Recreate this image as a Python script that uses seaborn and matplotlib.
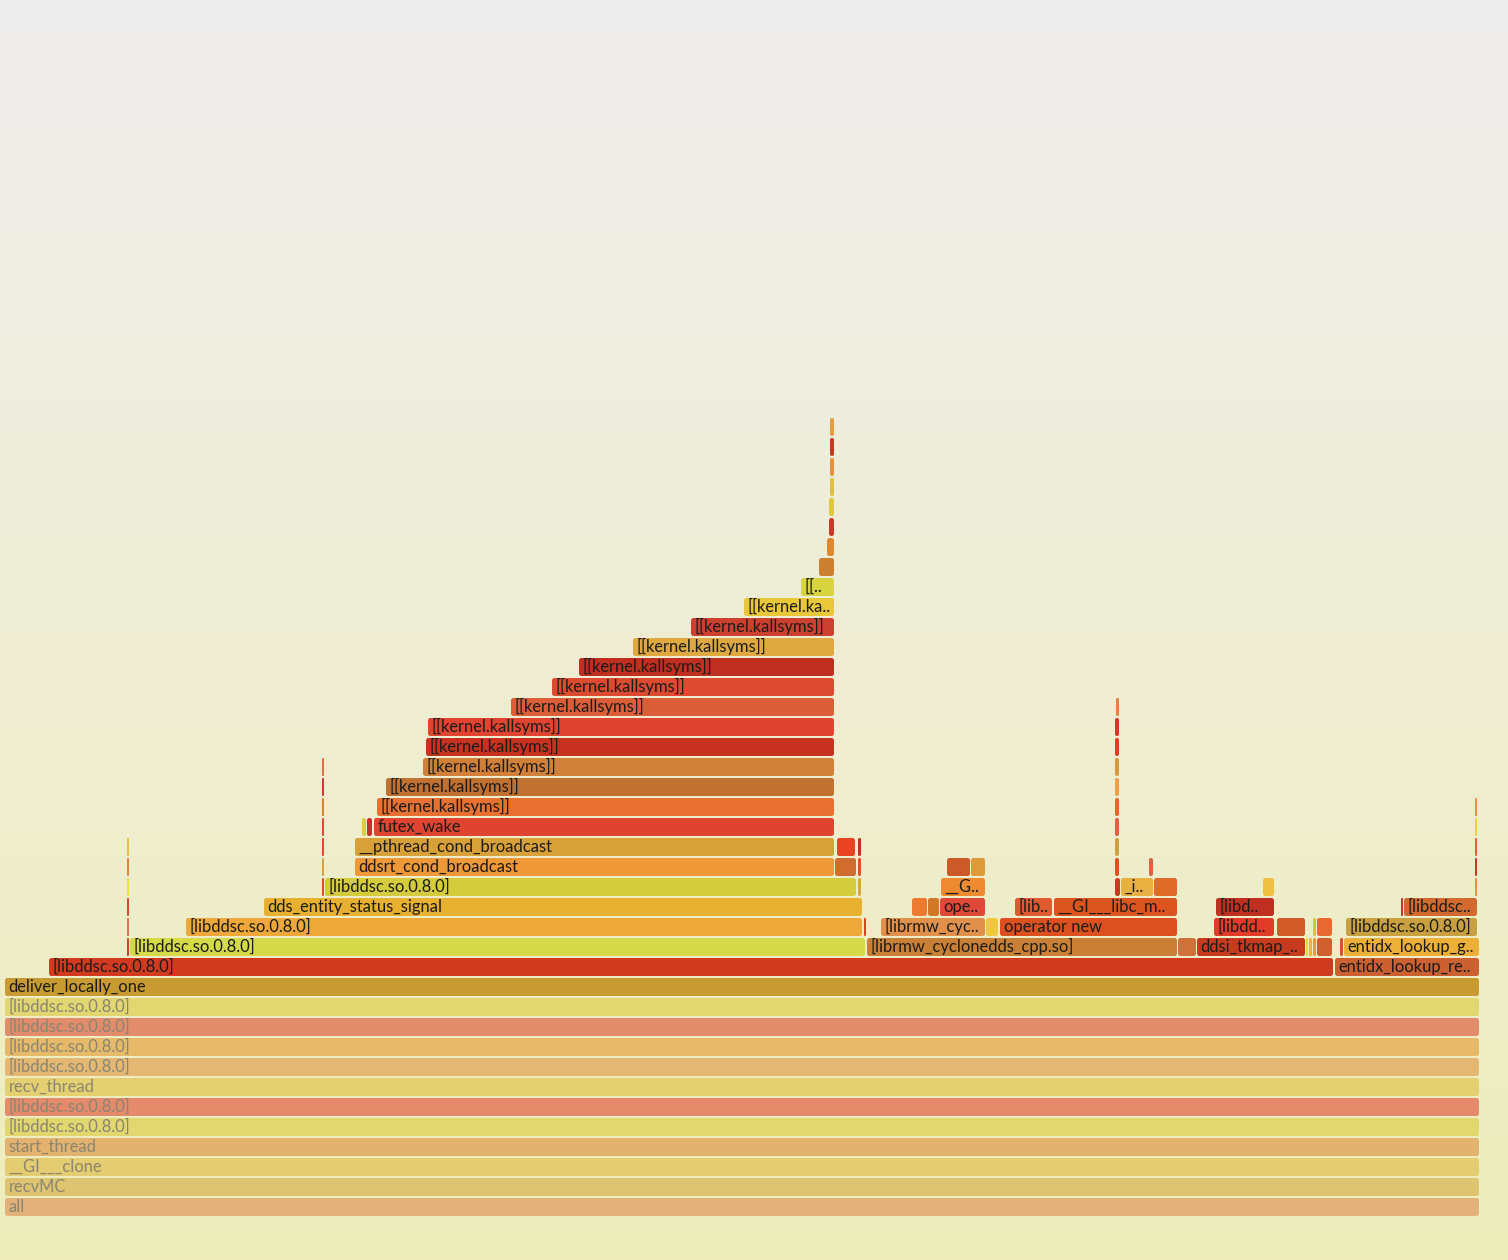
import numpy as np
import pandas as pd
import matplotlib
matplotlib.use("Agg")
import matplotlib.pyplot as plt
from matplotlib.patches import FancyBboxPatch
from matplotlib.colors import LinearSegmentedColormap
import seaborn as sns

# Flame graph frames (samples, total = 1475). Levels 0-10 are faded ancestors
# of the zoomed frame "deliver_locally_one".
TOTAL = 1475
ZOOM_LEVEL = 11

ancestor_names = ["all", "recvMC", "__GI___clone", "start_thread",
                  "[libddsc.so.0.8.0]", "[libddsc.so.0.8.0]", "recv_thread",
                  "[libddsc.so.0.8.0]", "[libddsc.so.0.8.0]", "[libddsc.so.0.8.0]",
                  "[libddsc.so.0.8.0]", "deliver_locally_one"]
ancestor_colors = ["#e2b27a", "#dec470", "#e4cc70", "#e2b26e", "#e2d66e", "#e58a6a",
                   "#e4d070", "#e4b872", "#e6ba68", "#e38c6c", "#e2d670", "#c89a32"]

# (level, first sample, last sample, label, colour)
frames = [
    (12, 44, 1328, "[libddsc.so.0.8.0]", "#d23a20"),
    (12, 1330, 1474, "entidx_lookup_re..", "#cd6030"),
    (13, 122, 124, "", "#d04030"),
    (13, 125, 860, "[libddsc.so.0.8.0]", "#d4da48"),
    (13, 862, 1172, "[librmw_cyclonedds_cpp.so]", "#c98036"),
    (13, 1173, 1191, "", "#d0703a"),
    (13, 1192, 1300, "ddsi_tkmap_..", "#c83a1e"),
    (13, 1301, 1303, "", "#dcdc3a"),
    (13, 1304, 1307, "", "#f0b040"),
    (13, 1308, 1311, "", "#e89a38"),
    (13, 1312, 1327, "", "#d06030"),
    (13, 1335, 1338, "", "#e05030"),
    (13, 1339, 1474, "entidx_lookup_g..", "#ecb038"),
    (14, 122, 124, "", "#e07050"),
    (14, 181, 857, "[libddsc.so.0.8.0]", "#eea83a"),
    (14, 859, 861, "", "#e04020"),
    (14, 876, 980, "[librmw_cyc..", "#e0904a"),
    (14, 981, 993, "", "#f0c840"),
    (14, 995, 1172, "operator new", "#dc5020"),
    (14, 1209, 1269, "[libdd..", "#e03c28"),
    (14, 1272, 1300, "", "#d05a28"),
    (14, 1308, 1311, "", "#d4c830"),
    (14, 1312, 1327, "", "#e86a30"),
    (14, 1341, 1472, "[libddsc.so.0.8.0]", "#c8a040"),
    (15, 122, 124, "", "#d84a30"),
    (15, 259, 857, "dds_entity_status_signal", "#e8b030"),
    (15, 907, 922, "", "#ec7a30"),
    (15, 923, 934, "", "#d07828"),
    (15, 935, 980, "ope..", "#e04838"),
    (15, 1010, 1047, "[lib..", "#e05a30"),
    (15, 1049, 1172, "__GI___libc_m..", "#dc5420"),
    (15, 1211, 1269, "[libd..", "#c03020"),
    (15, 1396, 1398, "", "#d03030"),
    (15, 1399, 1472, "[libddsc..", "#d26a30"),
    (16, 122, 124, "", "#f0e040"),
    (16, 317, 319, "", "#d85030"),
    (16, 320, 851, "[libddsc.so.0.8.0]", "#d4cc3c"),
    (16, 853, 856, "", "#d8a840"),
    (16, 936, 980, "__G..", "#ee8a30"),
    (16, 1110, 1115, "", "#c83a20"),
    (16, 1116, 1148, "_i..", "#e8b040"),
    (16, 1149, 1172, "", "#e06a28"),
    (16, 1258, 1269, "", "#f0c040"),
    (16, 1470, 1472, "", "#e89040"),
    (17, 122, 124, "", "#e88040"),
    (17, 317, 319, "", "#d8a040"),
    (17, 350, 829, "ddsrt_cond_broadcast", "#ee9838"),
    (17, 830, 851, "", "#d06c30"),
    (17, 853, 856, "", "#e05020"),
    (17, 942, 965, "", "#cc5a28"),
    (17, 966, 980, "", "#dc9a38"),
    (17, 1110, 1114, "", "#e05020"),
    (17, 1144, 1148, "", "#e06040"),
    (17, 1470, 1472, "", "#c83a28"),
    (18, 122, 124, "", "#e8c040"),
    (18, 317, 319, "", "#e04838"),
    (18, 350, 829, "__pthread_cond_broadcast", "#d8a038"),
    (18, 832, 850, "", "#e84424"),
    (18, 853, 856, "", "#c03020"),
    (18, 1110, 1114, "", "#d0a040"),
    (18, 1470, 1472, "", "#e86030"),
    (19, 317, 319, "", "#e04838"),
    (19, 357, 361, "", "#d8d040"),
    (19, 362, 367, "", "#c83030"),
    (19, 369, 829, "futex_wake", "#e04430"),
    (19, 1110, 1114, "", "#e06048"),
    (19, 1470, 1472, "", "#f0d040"),
    (20, 317, 319, "", "#d88030"),
    (20, 372, 829, "[[kernel.kallsyms]]", "#e87030"),
    (20, 1110, 1114, "", "#e06828"),
    (20, 1470, 1472, "", "#e89040"),
    (21, 317, 319, "", "#d03838"),
    (21, 381, 829, "[[kernel.kallsyms]]", "#c07030"),
    (21, 1110, 1114, "", "#eea048"),
    (22, 317, 319, "", "#e07040"),
    (22, 418, 829, "[[kernel.kallsyms]]", "#d08038"),
    (22, 1110, 1114, "", "#d89a40"),
    (23, 421, 829, "[[kernel.kallsyms]]", "#c83020"),
    (23, 1110, 1114, "", "#d84028"),
    (24, 423, 829, "[[kernel.kallsyms]]", "#e04430"),
    (24, 1110, 1114, "", "#d03828"),
    (25, 506, 829, "[[kernel.kallsyms]]", "#dc5e38"),
    (25, 1111, 1114, "", "#e88040"),
    (26, 547, 829, "[[kernel.kallsyms]]", "#dc4a30"),
    (27, 574, 829, "[[kernel.kallsyms]]", "#c02e20"),
    (28, 628, 829, "[[kernel.kallsyms]]", "#e0a840"),
    (29, 686, 829, "[[kernel.kallsyms]]", "#cc4030"),
    (30, 739, 829, "[[kernel.ka..", "#e8c838"),
    (31, 796, 829, "[[..", "#d8d440"),
    (32, 814, 829, "", "#cc8030"),
    (33, 822, 829, "", "#e08830"),
    (34, 824, 829, "", "#c83a28"),
    (35, 824, 829, "", "#e0c838"),
    (36, 825, 829, "", "#e0c040"),
    (37, 825, 829, "", "#e89040"),
    (38, 825, 829, "", "#c83a20"),
    (39, 825, 829, "", "#e0a040"),
]

rows = [(i, 0, TOTAL - 1, n, c) for i, (n, c) in enumerate(zip(ancestor_names, ancestor_colors))]
df = pd.DataFrame(rows + frames, columns=["level", "first", "last", "name", "color"])
df["width"] = df["last"] - df["first"] + 1

sns.set_theme(style="white")
plt.rcParams['font.family'] = ['Lato', 'DejaVu Sans']

fig = plt.figure(figsize=(15.08, 12.6), dpi=100)
ax = fig.add_axes([0, 0, 1, 1])
xlo, xhi = -5, 1503
ylo, yhi = -2.2, 60.8
ax.set_xlim(xlo, xhi)
ax.set_ylim(ylo, yhi)
ax.axis('off')

# background gradient like flamegraph.pl
bg = LinearSegmentedColormap.from_list('bg', ['#efedbc', '#eeeeee'])
ax.imshow(np.linspace(0, 1, 256).reshape(-1, 1), extent=(xlo, xhi, ylo, yhi),
          origin='lower', cmap=bg, aspect='auto', zorder=0)

bar_h = 0.9
for _, f in df.iterrows():
    w = f["width"] - 1
    r = min(2.5, w / 2 * 0.95)
    box = FancyBboxPatch((f["first"], f["level"]), w, bar_h,
                         boxstyle=f"round,pad=0,rounding_size={r}",
                         mutation_aspect=1 / 20, facecolor=f["color"],
                         edgecolor='none', zorder=2)
    ax.add_patch(box)
    if f["name"]:
        faded = f["level"] < ZOOM_LEVEL
        t = ax.text(f["first"] + 3.5, f["level"] + bar_h / 2 + 0.02, f["name"],
                    va='center', ha='left', fontsize=11.9,
                    color='#8a8672' if faded else '#1c1c1c', zorder=3)
        t.set_clip_path(box)

fig.savefig("out.png", dpi=100)
